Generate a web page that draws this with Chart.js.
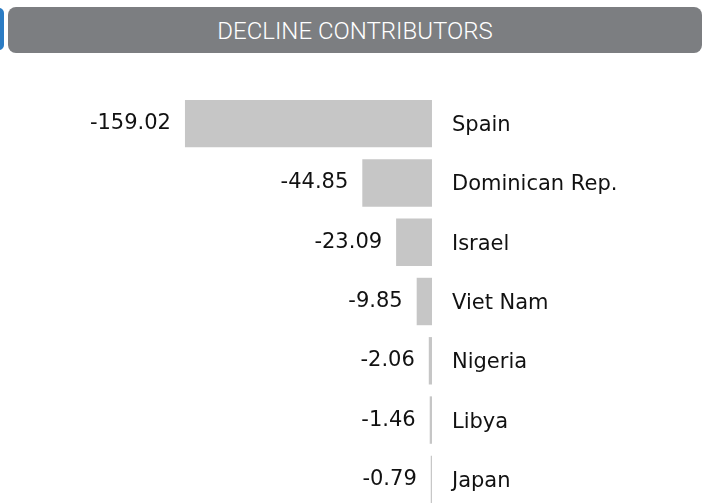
<!DOCTYPE html>
<html>
<head>
<meta charset="utf-8">
<script src="https://cdn.jsdelivr.net/npm/chart.js@4/dist/chart.umd.min.js"></script>
<style>
  html, body { margin: 0; padding: 0; background: #fff; overflow: hidden; }
  #wrap { position: relative; width: 708px; height: 504px; overflow: hidden; }
  #tab { position: absolute; left: -6px; top: 8px; width: 10px; height: 42px; background: #2b7cc4; border-radius: 5px; }
  #header { position: absolute; left: 8px; top: 7px; width: 694px; height: 46px; background: #7c7e81;
            border-radius: 8px; color: #fff; font-family: Roboto, sans-serif; font-size: 24px; font-weight: 300;
            line-height: 48px; text-align: center; }
  #chartBox { position: absolute; left: 0; top: 0; width: 708px; height: 520px; }
</style>
</head>
<body>
<div id="wrap">
  <div id="tab"></div>
  <div id="header">DECLINE CONTRIBUTORS</div>
  <div id="chartBox"><canvas id="c" width="708" height="520"></canvas></div>
</div>
<script>
const countries = ["Spain", "Dominican Rep.", "Israel", "Viet Nam", "Nigeria", "Libya", "Japan"];
const declines = [-159.02, -44.85, -23.09, -9.85, -2.06, -1.46, -0.79];

const labelFont = "21px 'DejaVu Sans', sans-serif";

// Writes each country's name right of the zero line and its value left of its bar.
const barLabels = {
  id: 'barLabels',
  afterDatasetsDraw(chart) {
    const ctx = chart.ctx;
    const xs = chart.scales.x;
    const meta = chart.getDatasetMeta(0);
    const zeroX = xs.getPixelForValue(0);
    ctx.save();
    ctx.font = labelFont;
    ctx.fillStyle = '#111';
    ctx.textBaseline = 'middle';
    meta.data.forEach((bar, i) => {
      const y = bar.y;
      ctx.textAlign = 'left';
      ctx.fillText(countries[i], zeroX + 20, y + 2);
      ctx.textAlign = 'right';
      ctx.fillText(declines[i].toFixed(2), xs.getPixelForValue(declines[i]) - 14, y);
    });
    ctx.restore();
  }
};

new Chart(document.getElementById('c'), {
  type: 'bar',
  data: {
    labels: countries,
    datasets: [{
      data: declines,
      backgroundColor: '#c6c6c6',
      borderWidth: 0,
      barPercentage: 0.8,
      categoryPercentage: 1.0
    }]
  },
  options: {
    indexAxis: 'y',
    responsive: false,
    animation: false,
    layout: { padding: { top: 94, bottom: 11, left: 0, right: 0 } },
    plugins: { legend: { display: false }, tooltip: { enabled: false } },
    scales: {
      x: { display: false, min: -278.1, max: 177.7 },
      y: { display: false }
    }
  },
  plugins: [barLabels]
});
</script>
</body>
</html>
